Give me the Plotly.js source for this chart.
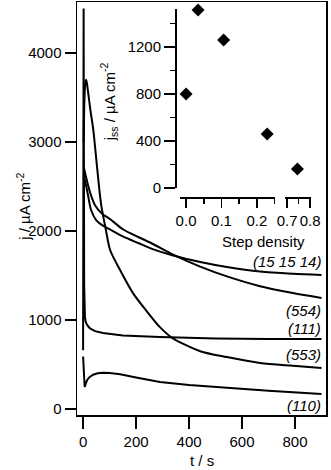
<!DOCTYPE html>
<html>
<head>
<meta charset="utf-8">
<script src="https://cdn.plot.ly/plotly-3.0.1.min.js"></script>
<style>
  html, body { margin: 0; padding: 0; background: #fff; }
  #chart { width: 331px; height: 470px; }
</style>
</head>
<body>
<div id="chart"></div>
<script>
// transients, t in s, j in µA cm-2
const t111 = [0, 2, 4, 5, 7, 10, 15, 26, 45, 75, 150, 290, 500, 700, 900];
const j111 = [660, 4500, 1400, 1150, 1030, 980, 945, 905, 875, 855, 825, 809, 792, 788, 787];

const t110 = [0, 6, 10, 16, 25, 38, 55, 75, 100, 140, 200, 290, 400, 543, 700, 900];
const j110 = [590, 247, 285, 330, 360, 385, 402, 408, 405, 390, 355, 305, 270, 236, 205, 169];

const t553 = [2, 8, 12, 18, 28, 38, 50, 68, 85, 102, 140, 189, 240, 290, 336, 442, 543, 668, 792, 900];
const j553 = [3000, 3650, 3700, 3580, 3350, 3150, 2800, 2300, 2030, 1787, 1560, 1300, 1100, 920, 800, 650, 584, 517, 485, 460];

const t554 = [4, 10, 20, 30, 45, 70, 106, 150, 208, 260, 340, 442, 543, 668, 792, 900];
const j554 = [2700, 2620, 2500, 2400, 2290, 2200, 2124, 2020, 1933, 1860, 1735, 1600, 1490, 1380, 1303, 1247];

const t151514 = [4, 12, 20, 30, 50, 75, 106, 150, 208, 260, 340, 442, 543, 668, 792, 900];
const j151514 = [2600, 2500, 2380, 2236, 2120, 2060, 2011, 1940, 1865, 1800, 1725, 1652, 1596, 1545, 1520, 1506];

// curve labels
const curveNames = ['(15 15 14)', '(554)', '(111)', '(553)', '(110)'];
const labelJ = [1652, 1112, 910, 618, 45];

// inset: steady state current vs step density
const stepDensity = [0.0, 0.034, 0.106, 0.229];
const jss = [800, 1515, 1260, 460];
const stepDensityHigh = [0.745];
const jssHigh = [162];

const mainTicks = [0, 200, 400, 600, 800];
const jTicks = [0, 1000, 2000, 3000, 4000];
const insetJTicks = [0, 400, 800, 1200];
const insetJMinor = [200, 600, 1000, 1400];

const FONT = 'Liberation Sans, Arial, sans-serif';

const line = {color: 'black', width: 2};
const smooth = {color: 'black', width: 2, shape: 'spline', smoothing: 0.8};
const traces = [
  {x: t111, y: j111, mode: 'lines', line: line},
  {x: t110, y: j110, mode: 'lines', line: line},
  {x: t553, y: j553, mode: 'lines', line: smooth},
  {x: t554, y: j554, mode: 'lines', line: smooth},
  {x: t151514, y: j151514, mode: 'lines', line: smooth},
  {
    x: stepDensity, y: jss, xaxis: 'x2', yaxis: 'y2', mode: 'markers',
    marker: {symbol: 'diamond', size: 10, color: 'black'}, cliponaxis: false
  },
  {
    x: stepDensityHigh, y: jssHigh, xaxis: 'x3', yaxis: 'y2', mode: 'markers',
    marker: {symbol: 'diamond', size: 10, color: 'black'}, cliponaxis: false
  }
];

const annotations = curveNames.map((name, i) => ({
  x: 905, y: labelJ[i], xref: 'x', yref: 'y',
  text: '<i>' + name + '</i>', showarrow: false,
  xanchor: 'right', yanchor: 'middle',
  font: {size: 15, color: 'black', family: FONT}
}));

// axis titles placed by hand
annotations.push({
  xref: 'paper', yref: 'paper', x: -0.213, y: 0.504,
  text: 'j / µA cm<sup>-2</sup>', textangle: -90, showarrow: false,
  xanchor: 'center', yanchor: 'middle',
  font: {size: 15, color: 'black', family: FONT}
});
annotations.push({
  xref: 'paper', yref: 'paper', x: 0.50, y: -0.109,
  text: 't / s', showarrow: false, xanchor: 'center', yanchor: 'middle',
  font: {size: 15, color: 'black', family: FONT}
});
annotations.push({
  xref: 'paper', yref: 'paper', x: 0.747, y: 0.419,
  text: 'Step density', showarrow: false, xanchor: 'center', yanchor: 'middle',
  font: {size: 15, color: 'black', family: FONT}
});
annotations.push({
  xref: 'paper', yref: 'paper', x: 0.13, y: 0.758,
  text: 'j<sub>ss</sub> / µA cm<sup>-2</sup>', textangle: -90, showarrow: false,
  xanchor: 'center', yanchor: 'middle',
  font: {size: 15, color: 'black', family: FONT}
});

const tickFont = {size: 15, color: 'black', family: FONT};

const layout = {
  width: 331,
  height: 470,
  margin: {l: 77, r: 5, t: 2, b: 55},
  paper_bgcolor: 'white',
  plot_bgcolor: 'white',
  showlegend: false,
  font: {family: FONT, color: 'black'},
  xaxis: {
    range: [-23, 917], tickvals: mainTicks, ticks: 'outside', ticklen: 12,
    tickwidth: 1.5, tickcolor: 'black', showline: true, mirror: true,
    linecolor: 'black', linewidth: 1.5, showgrid: false, zeroline: false,
    tickfont: tickFont
  },
  yaxis: {
    range: [-67, 4573], tickvals: jTicks, ticks: 'outside', ticklen: 11,
    tickwidth: 1.5, tickcolor: 'black', showline: true, mirror: true,
    linecolor: 'black', linewidth: 1.5, showgrid: false, zeroline: false,
    tickfont: tickFont
  },
  xaxis2: {
    domain: [0.4137, 0.7952], anchor: 'free', position: 0.5278,
    range: [-0.017, 0.251], tickvals: [0, 0.1, 0.2], ticktext: ['0.0', '0.1', '0.2'],
    ticks: 'outside', ticklen: 9, tickwidth: 1.5, tickcolor: 'black',
    minor: {tickvals: [0.05, 0.15, 0.25], ticks: 'outside', ticklen: 5, tickwidth: 1.5, tickcolor: 'black'},
    showline: true, linecolor: 'black', linewidth: 1.5,
    showgrid: false, zeroline: false, tickfont: tickFont
  },
  xaxis3: {
    domain: [0.8353, 0.9398], anchor: 'free', position: 0.5278,
    range: [0.691, 0.804], tickvals: [0.7, 0.8], ticktext: ['0.7', '0.8'],
    ticks: 'outside', ticklen: 9, tickwidth: 1.5, tickcolor: 'black',
    minor: {tickvals: [0.75], ticks: 'outside', ticklen: 5, tickwidth: 1.5, tickcolor: 'black'},
    showline: true, linecolor: 'black', linewidth: 1.5,
    showgrid: false, zeroline: false, tickfont: tickFont
  },
  yaxis2: {
    domain: [0.5496, 0.982], anchor: 'free', position: 0.3936,
    range: [0, 1520], tickvals: insetJTicks,
    ticks: 'outside', ticklen: 11, tickwidth: 1.5, tickcolor: 'black',
    minor: {tickvals: insetJMinor, ticks: 'outside', ticklen: 5, tickwidth: 1.5, tickcolor: 'black'},
    showline: true, linecolor: 'black', linewidth: 1.5,
    showgrid: false, zeroline: false, tickfont: tickFont
  },
  annotations: annotations
};

Plotly.newPlot('chart', traces, layout, {staticPlot: true, displayModeBar: false});
</script>
</body>
</html>
